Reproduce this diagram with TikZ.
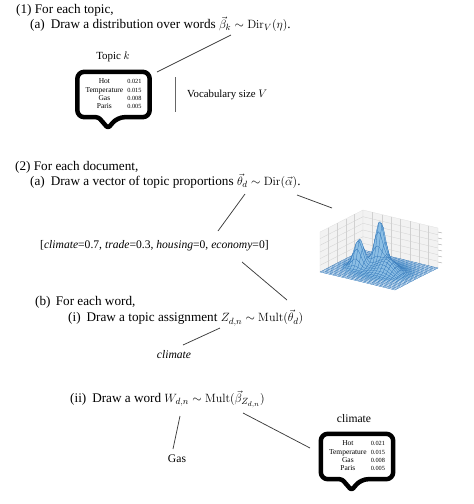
\documentclass[tikz,border=0pt]{standalone}
\usepackage[no-math]{fontspec}
\setmainfont{Liberation Serif}
\usetikzlibrary{calc}
\definecolor{surffill}{RGB}{140,190,228}
\definecolor{surfwire}{RGB}{40,112,182}
\definecolor{connc}{RGB}{60,60,60}
\newcommand\drawbubble[1]{%
  \draw[bubline] (#1.north) [rounded corners=7pt] -- (#1.north east) -- (#1.south east)
    -- ($(#1.south)+(4,0)$) [rounded corners=2.5pt] -- ($(#1.south)+(-5.5,11)$)
    -- ($(#1.south)+(-15,0)$) [rounded corners=7pt] -- (#1.south west) -- (#1.north west) -- cycle;}
\newcommand\bubtable{%
  \begin{tabular}{@{}c@{\hspace{4pt}}l@{}}
  Hot & {\fontsize{6.3}{8.3}\selectfont 0.021}\\
  Temperature & {\fontsize{6.3}{8.3}\selectfont 0.015}\\
  Gas & {\fontsize{6.3}{8.3}\selectfont 0.008}\\
  Paris & {\fontsize{6.3}{8.3}\selectfont 0.005}
  \end{tabular}}
\begin{document}
\begin{tikzpicture}[x=1pt,y=-1pt,
  declare function={sz(\p,\q)=42*exp(-min(20,((\p-0.47)*(\p-0.47)+(\q-0.58)*(\q-0.58))/0.007))
     +27*exp(-min(20,((\p-0.28)*(\p-0.28)+(\q-0.42)*(\q-0.42))/0.007))
     +12*exp(-min(20,((\p-0.64)*(\p-0.64)+(\q-0.46)*(\q-0.46))/0.02))
     +4*exp(-min(20,((\p-0.5)*(\p-0.5)+(\q-0.5)*(\q-0.5))/0.08));},
  txt/.style={inner sep=0pt, anchor=west, font=\fontsize{13.2}{16}\selectfont},
  small/.style={inner sep=0pt, font=\fontsize{11.6}{14}\selectfont},
  conn/.style={draw=connc, line width=0.75pt},
  bubline/.style={draw=black, line width=4.5pt, line join=round},
  bubnode/.style={minimum width=72pt, minimum height=45pt, inner sep=0pt,
     font=\fontsize{7.5}{8.3}\selectfont},
  wire/.style={draw=surfwire, line width=0.25pt},
  pane/.style={fill=black!5, draw=black!12, line width=0.3pt},
  gridl/.style={draw=black!18, line width=0.3pt}
]
\useasboundingbox (0,0) rectangle (474,504);

% ---------- part (1)
\node[txt] (t1) at (16,10) {(1) For each topic,};
\node[txt] (t1a) at (30,24) {(a)\hspace{0.45em}Draw a distribution over words $\vec{\beta}_k\sim\mathrm{Dir}_V(\eta)$.};
\node[small, font=\fontsize{10.9}{13}\selectfont] (topic) at (113,57) {Topic $k$};
\node[bubnode] (b1) at (113.5,94.5) {\bubtable};
\drawbubble{b1}
\draw[draw=black!60, line width=0.9pt] (175,77) coordinate (v1) -- (175,112) coordinate (v2);
\node[inner sep=0pt, anchor=west, font=\fontsize{10.8}{13}\selectfont] (vocab) at (187,95) {Vocabulary size $V$};
\coordinate (c1a) at (231,35);
\coordinate (c1b) at (157,72);
\draw[conn] (c1a) -- (c1b);

% ---------- part (2)
\node[txt] (t2) at (15,167) {(2) For each document,};
\node[txt] (t2a) at (30,181) {(a)\hspace{0.45em}Draw a vector of topic proportions $\vec{\theta}_d\sim\mathrm{Dir}(\vec{\alpha})$.};
\node[small, anchor=west] (vec) at (40,246) {[\textit{climate}=0.7, \textit{trade}=0.3, \textit{housing}=0, \textit{economy}=0]};
\coordinate (c2a) at (245,194);
\coordinate (c2b) at (218,231);
\draw[conn] (c2a) -- (c2b);
\coordinate (c3a) at (297,195);
\coordinate (c3b) at (332,208);
\draw[conn] (c3a) -- (c3b);
\coordinate (c4a) at (242,262);
\coordinate (c4b) at (287,300);
\draw[conn] (c4a) -- (c4b);

% ---------- 3D density plot
% panes
\draw[pane] (320,272) -- (363,250) -- (363,210) -- (320,232) -- cycle;
\draw[pane] (363,250) -- (438,268) -- (438,228) -- (363,210) -- cycle;
\foreach \t in {0.2,0.4,0.6,0.8}{
  \draw[gridl] ({320+43*\t},{272-22*\t}) -- ({320+43*\t},{232-22*\t});
}
\foreach \t in {0.125,0.25,0.375,0.5,0.625,0.75,0.875}{
  \draw[gridl] ({363+75*\t},{250+18*\t}) -- ({363+75*\t},{210+18*\t});
}
\foreach \h in {6.7,13.3,20,26.7,33.3}{
  \draw[gridl] (320,272-\h) -- (363,250-\h) -- (438,268-\h);
}
\foreach \h in {6,12,18,24,30,36}{
  \draw[black!45, line width=0.3pt] (438,268-\h) -- (442,269-\h);
}
% surface, painted from back to front
\foreach \j in {0,...,30}{
  \pgfmathsetmacro\yy{1-\j/30}
  \pgfmathsetmacro\yp{1-(\j-1)/30}
  \ifnum\j>0
    \draw[wire] \foreach \i in {0,...,24}{
      ({320+75*\i/24+43*\yp},{272+18*\i/24-22*\yp-sz(\i/24,\yp)}) --
      ({320+75*\i/24+43*\yy},{272+18*\i/24-22*\yy-sz(\i/24,\yy)}) };
  \fi
  \fill[surffill] plot[domain=0:1, samples=41]
      ({320+75*\x+43*\yy},{272+18*\x-22*\yy-sz(\x,\yy)})
      -- ({395+43*\yy},{290-22*\yy}) -- ({320+43*\yy},{272-22*\yy}) -- cycle;
  \draw[wire] plot[domain=0:1, samples=41]
      ({320+75*\x+43*\yy},{272+18*\x-22*\yy-sz(\x,\yy)});
}

% ---------- part (b)
\node[txt] (tb) at (35,302) {(b)\hspace{0.4em}For each word,};
\node[txt] (ti) at (68,318) {(i)\hspace{0.45em}Draw a topic assignment $Z_{d,n}\sim\mathrm{Mult}(\vec{\theta}_d)$};
\node[small] (clim1) at (174,355) {\textit{climate}};
\coordinate (c5a) at (220,328);
\coordinate (c5b) at (183,345);
\draw[conn] (c5a) -- (c5b);

\node[txt] (tii) at (70,399) {(ii)\hspace{0.45em}Draw a word $W_{d,n}\sim\mathrm{Mult}(\vec{\beta}_{Z_{d,n}})$};
\node[small] (gas) at (177,459) {Gas};
\node[small] (clim2) at (354,419) {climate};
\node[bubnode] (b2) at (357,456.5) {\bubtable};
\drawbubble{b2}
\coordinate (c6a) at (180,416);
\coordinate (c6b) at (173,449);
\draw[conn] (c6a) -- (c6b);
\coordinate (c7a) at (243,413);
\coordinate (c7b) at (310,448);
\draw[conn] (c7a) -- (c7b);
\end{tikzpicture}
\end{document}
